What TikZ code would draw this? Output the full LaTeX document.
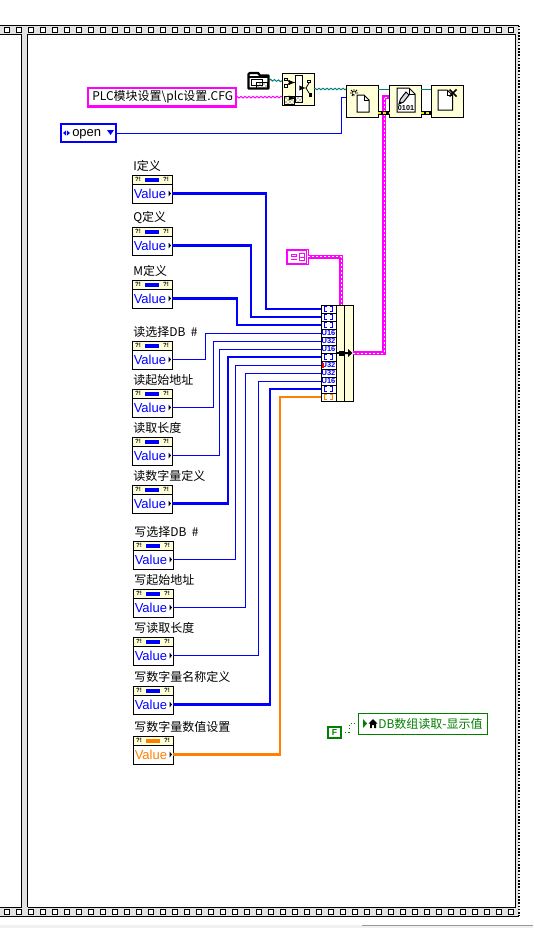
\documentclass[tikz,border=0pt]{standalone}
\usepackage{fontspec}
\setmainfont{Liberation Sans}
\newfontfamily\cjk{Noto Sans CJK SC}
\usetikzlibrary{fit,decorations.pathmorphing,patterns,calc}
\definecolor{viy}{HTML}{FFFFD8}
\definecolor{vib}{HTML}{0000FF}
\definecolor{vio}{HTML}{FF8000}
\definecolor{vim}{HTML}{FF00FF}
\definecolor{vit}{HTML}{007F7F}
\definecolor{vig}{HTML}{007F00}
\definecolor{band}{HTML}{E2E2E2}
\tikzset{
  box/.style={draw=black,line width=.75pt,fill=viy,inner sep=0pt,outer sep=0pt},
  cell/.style={draw=black,line width=.75pt,fill=white,inner sep=0pt,outer sep=0pt,text=vib,font=\bfseries\fontsize{5.6pt}{6pt}\selectfont},
  icon/.style={draw=black,line width=.75pt,line join=miter},
  wthin/.style={draw=vib,line width=.75pt},
  wthick/.style={draw=vib,line width=1.9pt},
  worange/.style={draw=vio,line width=1.9pt},
  wpink/.style={draw=white,line width=.7pt,dash pattern=on 1.5pt off 1.5pt,preaction={draw=vim,line width=2.9pt,solid}},
  wwave/.style={draw=#1,line width=.75pt,decorate,decoration={zigzag,segment length=3pt,amplitude=.6pt}},
  werr/.style={draw={rgb,255:red,230;green,230;blue,40},line width=1.1pt,dash pattern=on 2.2pt off 1.8pt,preaction={draw=black,line width=2.3pt,solid}},
  lab/.style={anchor=west,inner sep=0pt,font=\cjk\fontsize{9pt}{11pt}\selectfont},
  valtxt/.style={anchor=west,inner sep=0pt,font=\fontsize{9.75pt}{11pt}\selectfont},
  qm/.style={inner sep=0pt,font=\bfseries\fontsize{4.6pt}{5pt}\selectfont},
}
% control: name, x, top, label, colour
\newcommand{\ctl}[5]{%
  \node[lab] (#1l) at (#2+1,#3-9) {#4};
  \node[box,fit={(#2,#3) ({#2+40},{#3+9.5})}] (#1h) {};
  \node[box,fill=white,fit={(#2,{#3+9.5}) ({#2+40},{#3+28})}] (#1) {};
  \fill[#5] ({#2+13},{#3+2.5}) rectangle ({#2+27},{#3+7});
  \node[qm] at ({#2+6},{#3+4.8}) {?!};
  \node[qm] at ({#2+34},{#3+4.8}) {?!};
  \node[valtxt,text=#5] at ({#2+1.5},{#3+18.5}) {Value};
  \fill[black] ({#2+36.5},{#3+15.5}) -- ({#2+39},{#3+18.5}) -- ({#2+36.5},{#3+21.5}) -- cycle;
}
\newcommand{\bkt}[2]{% cluster glyph in a cell
  \draw[#2,line width=.75pt] ($(#1)+(-1pt,-1.6pt)$) -- ++(-2pt,0) -- ++(0,3.2pt) -- ++(2pt,0);
  \draw[#2,line width=.75pt] ($(#1)+(1pt,-1.6pt)$) -- ++(2pt,0) -- ++(0,3.2pt) -- ++(-2pt,0);
}
\begin{document}
\begin{tikzpicture}[x=.75pt,y=-.75pt]
\useasboundingbox (0,0) rectangle (533,928);
\fill[white] (0,0) rectangle (533,928);
% bottom strip
\fill[black!6] (0,925) rectangle (533,928);
\draw[black!40,line width=.75pt] (362,925.5) -- (533,925.5);
% structure frame
\fill[band] (0,25.5) rectangle (519,34);
\fill[band] (0,907) rectangle (519,916);
\fill[band] (21.5,34) rectangle (27.5,907);
\fill[band] (515,34) rectangle (519,907);
\draw[black,line width=.75pt] (0,25.5) -- (519,25.5);
\draw[black,line width=.75pt] (0,34) -- (21.5,34) -- (21.5,907) -- (0,907);
\draw[black,line width=.75pt] (27.5,907) -- (27.5,34) -- (515,34) -- (515,907) -- (27.5,907);
\draw[black,line width=.75pt] (0,916) -- (519,916);
\draw[black,line width=1pt,dash pattern=on 1.2pt off 1.2pt] (519,25.5) -- (519,916);
\foreach \i in {0,...,42}{
  \draw[black,line width=.75pt,fill=white] ({4.5+12*\i},27.5) rectangle ({9.5+12*\i},32.5);
  \draw[black,line width=.75pt,fill=white] ({4.5+12*\i},909.5) rectangle ({9.5+12*\i},914.5);
}

% file functions
\node[box,fit={(282,73) (314,105)}] (bundle) {};
\node[box,fit={(346,85) (378,117)}] (openf) {};
\node[box,fit={(389,85) (421,117)}] (writef) {};
\node[box,fit={(431,85) (463,117)}] (closef) {};
\node[inner sep=0pt,outer sep=0pt,fit={(247,72) (269.5,89)}] (folder) {};
% path constant and enum
\node[draw=vim,line width=1.9pt,fill=white,inner sep=0pt,outer sep=0pt,fit={(88,88) (236,106.5)}] (pathc) {};
\node[inner sep=0pt,anchor=west,font=\cjk\fontsize{9pt}{11pt}\selectfont] (patht) at (92,97) {PLC模块设置\textbackslash plc设置.CFG};
\node[draw=vib,line width=1.9pt,fill=white,inner sep=0pt,outer sep=0pt,fit={(61,124) (116,142)}] (enumc) {};
\node[valtxt] (enumt) at (72,134.5) {open};
% cluster constant
\node[draw=vim,line width=.75pt,fill=white,inner sep=0pt,outer sep=0pt,fit={(286,249) (308,264.5)}] (clus) {};
% build array
\foreach \n in {1,...,12}{
  \node[cell,fit={(321,{305+8*(\n-1)}) (336,{305+8*\n})}] (c\n) {};
}
\node[box,fit={(336,305) (344,401)}] (bam) {};
\node[box,fit={(344,305) (353,401)}] (bar) {};
% controls
\ctl{v1}{132}{175}{I定义}{vib}
\ctl{v2}{132}{227}{Q定义}{vib}
\ctl{v3}{132}{280}{M定义}{vib}
\ctl{v4}{132}{341}{读选择DB \ \#}{vib}
\ctl{v5}{132}{389}{读起始地址}{vib}
\ctl{v6}{132}{437}{读取长度}{vib}
\ctl{v7}{132}{485}{读数字量定义}{vib}
\ctl{v8}{133}{541}{写选择DB \ \#}{vib}
\ctl{v9}{133}{589}{写起始地址}{vib}
\ctl{v10}{133}{637}{写读取长度}{vib}
\ctl{v11}{133}{686}{写数字量名称定义}{vib}
\ctl{v12}{133}{736}{写数字量数值设置}{vio}
% routing columns
\foreach \k/\xx in {1/266,2/251,3/237,4/205,5/213,6/219,7/228,8/235,9/245,10/258,11/270,12/280}{
  \coordinate (r\k) at (\xx,0);
}
% wires into build array
\draw[wthick] (v1.east) -| (r1 |- c1.west) -- (c1.west);
\draw[wthick] (v2.east) -| (r2 |- c2.west) -- (c2.west);
\draw[wthick] (v3.east) -| (r3 |- c3.west) -- (c3.west);
\draw[wthin] (v4.east) -| (r4 |- c4.west) -- (c4.west);
\draw[wthin] (v5.east) -| (r5 |- c5.west) -- (c5.west);
\draw[wthin] (v6.east) -| (r6 |- c6.west) -- (c6.west);
\draw[wthick] (v7.east) -| (r7 |- c7.west) -- (c7.west);
\draw[wthin] (v8.east) -| (r8 |- c8.west) -- (c8.west);
\draw[wthin] (v9.east) -| (r9 |- c9.west) -- (c9.west);
\draw[wthin] (v10.east) -| (r10 |- c10.west) -- (c10.west);
\draw[wthick] (v11.east) -| (r11 |- c11.west) -- (c11.west);
\draw[worange] (v12.east) -| (r12 |- c12.west) -- (c12.west);
% cell glyphs
\node[cell,draw=none,fill=none] at (c4) {U16};
\node[cell,draw=none,fill=none] at (c5) {U32};
\node[cell,draw=none,fill=none] at (c6) {U16};
\node[cell,draw=none,fill=none] at (c8) {U32};
\node[cell,draw=none,fill=none] at (c9) {U32};
\node[cell,draw=none,fill=none] at (c10) {U16};
\bkt{c1}{vib}\bkt{c2}{vib}\bkt{c3}{vib}\bkt{c7}{vib}\bkt{c11}{vib}\bkt{c12}{vio}
\fill[red] (321.6,362.5) rectangle (323.6,367.5);
% array output symbol
\fill[black] (337,352.2) rectangle (339,354);
\fill[black] (339,350.5) rectangle (345,355.5);
\fill[black] (345,352) -- (348,352) -- (348,349) -- (352.5,353) -- (348,357) -- (348,354) -- (345,354) -- cycle;
% cluster wire & array wire
\coordinate (cin) at (341,305);
\coordinate (wrin) at (389,97);
\coordinate (up) at (384,0);
\draw[wpink] (clus.east) -| (cin);
\draw[wpink] (bar.east) -| (up |- wrin) -- (wrin);
% file wires
\coordinate (fo1) at (269.5,80);
\coordinate (fo2) at (282,81);
\coordinate (pi1) at (282,97);
\coordinate (ba1) at (314,89);
\coordinate (op1) at (346,89);
\coordinate (en1) at (346,97);
\coordinate (w1) at (341,0);
\draw[wwave=vit] (fo1) -- (fo2);
\draw[wwave=vim] (pathc.east) -- (pi1);
\draw[wwave=vit] (ba1) -- (op1);
\draw[wthin] (enumc.east) -| (w1 |- en1) -- (en1);
\draw[vit,line width=.75pt] (openf.east |- 0,89) -- (writef.west |- 0,89);
\draw[vit,line width=.75pt] (writef.east |- 0,89) -- (closef.west |- 0,89);
\draw[werr] (openf.east |- 0,113) -- (writef.west |- 0,113);
\draw[werr] (writef.east |- 0,113) -- (closef.west |- 0,113);
% folder icon
\draw[black,line width=1.7pt,line join=round,fill=white] (248.5,88.5) -- (248.5,74) -- (250,73) -- (258,73) -- (260,75.5) -- (268.5,75.5) -- (268.5,88.5) -- cycle;
\fill[black] (248,75.5) rectangle (268.5,77.5);
\draw[black,line width=.75pt,fill=white] (251,79) rectangle (262,85);
\draw[black,line width=.75pt,pattern=crosshatch dots,pattern color=black] (256,82) rectangle (267,88);
% bundle icon
\draw[black,line width=.6pt,pattern=crosshatch dots,pattern color=black] (284.5,96) rectangle (294,104);
\draw[black,line width=.6pt,fill=white] (295.5,75) rectangle (302,102);
\draw[black,line width=.6pt,pattern=crosshatch dots,pattern color=black] (295.5,96) rectangle (302,102);
\draw[black,line width=.6pt,fill=white] (284.5,78) rectangle (287,80.5);
\draw[black,line width=.6pt,fill=white] (284.5,84.5) rectangle (287,87);
\draw[black,line width=.6pt] (287,79.5) -- (290,82.5) -- (287,85.5);
\draw[black,line width=.75pt,-latex] (290,82.5) -- (295.5,82.5);
\draw[black,line width=.75pt,-latex] (294,98) -- (295.5,98);
\draw[black,line width=.75pt,-latex] (302,88) -- (306,88);
\draw[black,line width=.6pt] (306,88) -- (309,83) (306,88) -- (309,93);
\draw[black,line width=.6pt,fill=white] (307.5,80) rectangle (310,82.5);
\fill[black] (308.5,93) rectangle (312,96.5);
% open icon
\draw[icon,fill=white] (357,112) -- (357,95) -- (364,95) -- (369,100) -- (369,112) -- cycle;
\draw[icon] (364,95) -- (364,100) -- (369,100);
\draw[black,line width=.7pt] (350,93) -- (353,93) (355,93) -- (358,93) (354,89) -- (354,92) (354,94) -- (354,96) (351,90) -- (353,92) (357,90) -- (355,92) (352,96) -- (353,94);
% write icon
\draw[icon,fill=white] (397,112) -- (397,88) -- (409,88) -- (415,94) -- (415,112) -- cycle;
\draw[icon] (409,88) -- (409,94) -- (415,94);
\draw[black,line width=.75pt,fill=black!15] (399,104) -- (400.5,99) -- (406,92) -- (409,95) -- (403.5,102) -- cycle;
\fill[black] (399,104) -- (399.8,101.4) -- (401.6,103) -- cycle;
\node[inner sep=0pt,font=\bfseries\fontsize{5.4pt}{6pt}\selectfont] (bin) at (406,108.5) {0101};
% close icon
\draw[icon,fill=white] (438,110) -- (438,90) -- (447,90) -- (452.5,95) -- (452.5,110) -- cycle;
\draw[icon] (447,90) -- (447,95) -- (452.5,95);
\draw[black,line width=1.1pt] (449.5,89.5) -- (456.5,96.5) (456.5,89.5) -- (449.5,96.5);
% enum arrows
\fill[vib] (66,130.5) -- (63,133) -- (66,135.5) -- cycle;
\fill[vib] (67,130.5) -- (70,133) -- (67,135.5) -- cycle;
\fill[vib] (107,130) -- (114,130) -- (110.5,135) -- cycle;
% cluster const glyph
\draw[vim,line width=.6pt] (287.6,250.6) rectangle (306.4,263);
\draw[vim,line width=.6pt] (291,254) rectangle (296,256) (290.5,259) -- (296.5,259);
\draw[vim,line width=.6pt] (299,253.5) rectangle (304,260.5) (299,257) -- (304,257);
% Boolean + local variable
\node[draw=vig,line width=1.5pt,fill=white,inner sep=0pt,outer sep=0pt,fit={(328,727) (341,737.5)}] (fconst) {};
\node[text=vig,inner sep=0pt,font=\bfseries\fontsize{6.5pt}{7pt}\selectfont] at (fconst.center) {F};
\node[draw=vig,line width=.75pt,fill=white,inner sep=0pt,outer sep=0pt,fit={(358,713) (487,734)}] (lvar) {};
\coordinate (dm) at (349,0);
\draw[vig,line width=.75pt,dotted] (fconst.east) -| (dm |- lvar.west) -- (lvar.west);
\fill[vig] (363,719) -- (367,723.5) -- (363,728) -- cycle;
\fill[black] (368.5,723.5) -- (373,719) -- (377.5,723.5) -- (376,723.5) -- (376,728) -- (374.2,728) -- (374.2,725) -- (371.8,725) -- (371.8,728) -- (370,728) -- (370,723.5) -- cycle;
\node[inner sep=0pt,anchor=west,text=vig,font=\cjk\fontsize{9pt}{11pt}\selectfont] (lvart) at (378,723.5) {DB数组读取-显示值};
\end{tikzpicture}
\end{document}
